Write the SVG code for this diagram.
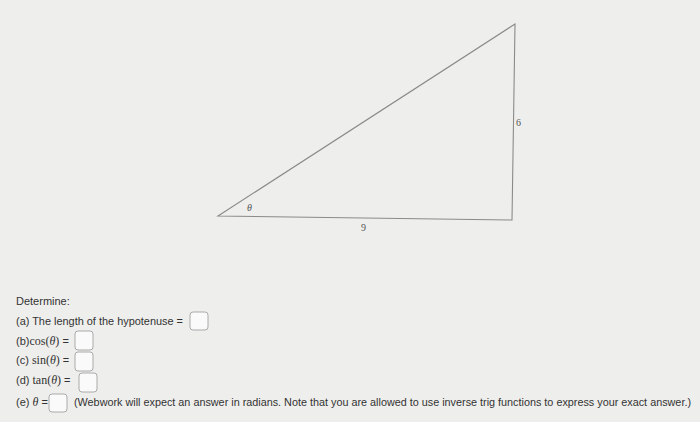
<svg xmlns="http://www.w3.org/2000/svg" width="700" height="422" viewBox="0 0 700 422">
<style>
.t{font-family:"Liberation Sans",Arial,sans-serif;font-size:11px;fill:#333}
.m{font-family:"Liberation Serif","Times New Roman",serif;font-size:12px;fill:#333}
.i{font-style:italic}
.box{fill:#fafafa;stroke:#aaa;stroke-width:1}
.edge{fill:none;stroke:#8a8a8a;stroke-width:1.1}
.lbl{font-family:"Liberation Serif","Times New Roman",serif;font-size:10px;fill:#555}
</style>
<rect width="700" height="422" fill="#eeeeec"/>
<g id="triangle">
<path class="edge" d="M218 216 L515 24 L512 220 Z"/>
</g>
<g id="labels">
<text class="lbl i" x="247" y="211">θ</text>
<text class="lbl" x="361" y="231">9</text>
<text class="lbl" x="516" y="126">6</text>
</g>
<g id="questions">
<text class="t" x="16" y="305">Determine:</text>
<text class="t" x="16" y="325" textLength="167" lengthAdjust="spacingAndGlyphs">(a) The length of the hypotenuse =</text>
<rect class="box" x="190" y="312" width="18" height="18" rx="3"/>
<text class="t" x="16" y="345">(b)<tspan class="m">cos(<tspan class="i">θ</tspan>)</tspan> =</text>
<rect class="box" x="75" y="331" width="18" height="19" rx="3"/>
<text class="t" x="16" y="364">(c) <tspan class="m">sin(<tspan class="i">θ</tspan>)</tspan> =</text>
<rect class="box" x="75" y="352" width="18" height="19" rx="3"/>
<text class="t" x="16" y="384">(d) <tspan class="m">tan(<tspan class="i">θ</tspan>)</tspan> =</text>
<rect class="box" x="79" y="373" width="18" height="19" rx="3"/>
<text class="t" x="16" y="406">(e) <tspan class="m i">θ</tspan> =</text>
<rect class="box" x="49" y="394" width="18" height="18" rx="3"/>
<text class="t" x="74" y="406" style="font-size:10.5px" textLength="617" lengthAdjust="spacingAndGlyphs">(Webwork will expect an answer in radians. Note that you are allowed to use inverse trig functions to express your exact answer.)</text>
</g>
</svg>
